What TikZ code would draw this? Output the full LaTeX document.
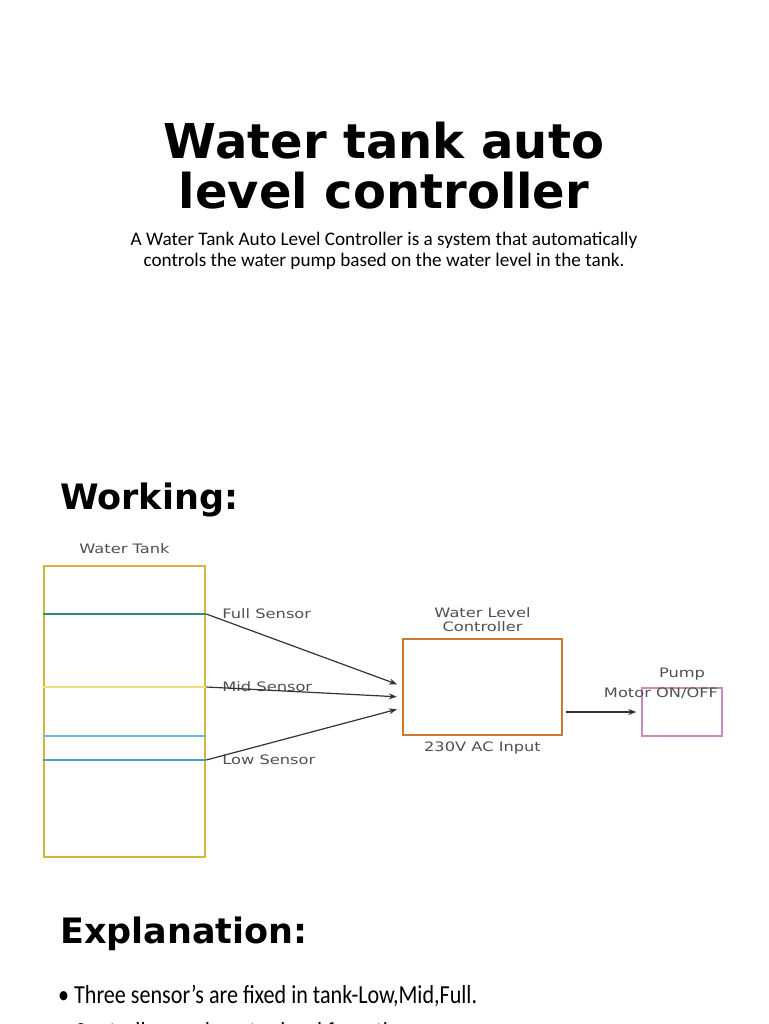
\documentclass[tikz,border=0pt]{standalone}
\usepackage{fontspec}
\setmainfont{Carlito}
\newfontfamily\headfont{DejaVu Sans}
\newfontfamily\diagfont[FakeStretch=1.25]{DejaVu Sans}
\newfontfamily\bulletfont[FakeStretch=0.85]{Carlito}
\usetikzlibrary{positioning, arrows.meta, arrows}

\definecolor{tankcol}{HTML}{D6B43E}
\definecolor{fullcol}{HTML}{2A8F78}
\definecolor{midcol}{HTML}{F0DC78}
\definecolor{lowcol}{HTML}{6DB8E2}
\definecolor{low2col}{HTML}{4A9CD0}
\definecolor{ctrlcol}{HTML}{C97A30}
\definecolor{pumpcol}{HTML}{C88CBC}
\definecolor{labelgray}{HTML}{505050}

\begin{document}
\begin{tikzpicture}[x=1pt,y=-1pt,>={Stealth[length=8pt,width=6pt]},
    heading/.style={anchor=base west,inner sep=0pt,font=\headfont\bfseries\fontsize{35}{40}\selectfont},
    lbl/.style={text=labelgray,inner sep=0pt,font=\diagfont\fontsize{13}{14}\selectfont,align=center},
    block/.style={draw,line width=2.5pt,inner sep=0pt},
    sig/.style={->,draw=black!80,line width=1.2pt,shorten >=5pt}]
    \useasboundingbox (0,0) rectangle (768,1024);

    % title and intro
    \node[align=center,font=\headfont\bfseries\fontsize{48}{50}\selectfont] (title) at (384,166) {Water tank auto\\level controller};
    \node[align=center,font=\fontsize{19.2}{21}\selectfont] (intro) at (384,251) {A Water Tank Auto Level Controller is a system that automatically\\controls the water pump based on the water level in the tank.};

    \node[heading] (working) at (60,509) {Working:};

    % tank
    \node[block,draw=tankcol,minimum width=161pt,minimum height=291pt] (tank) at (124.5,711.5) {};
    \node[lbl,above=11pt of tank] {Water Tank};
    \coordinate (full) at (tank.east |- 0,614);
    \coordinate (mid)  at (tank.east |- 0,687);
    \coordinate (low)  at (tank.east |- 0,760);
    \draw[fullcol,line width=1.5pt] (tank.west |- full) -- (full);
    \draw[midcol,line width=1.5pt] (tank.west |- mid) -- (mid);
    \draw[lowcol,line width=1.5pt] (tank.west |- 0,736) -- (tank.east |- 0,736);
    \draw[low2col,line width=1.5pt] (tank.west |- low) -- (low);
    \node[lbl,anchor=west] at ([xshift=16pt]full) {Full Sensor};
    \node[lbl,anchor=west] at ([xshift=16pt]mid) {Mid Sensor};
    \node[lbl,anchor=west] at ([xshift=16pt]low) {Low Sensor};

    % controller and pump
    \node[block,draw=ctrlcol,minimum width=159pt,minimum height=96pt] (ctrl) at (482.5,687) {};
    \node[lbl,above=6pt of ctrl] {Water Level\\Controller};
    \node[lbl,below=5pt of ctrl] {230V AC Input};
    \coordinate (in1) at ([yshift=1pt]ctrl.west);
    \coordinate (in2) at ([yshift=-10pt]ctrl.west);
    \coordinate (in3) at ([yshift=-21pt]ctrl.west);

    \node[draw=pumpcol,line width=1.5pt,minimum width=80pt,minimum height=48pt,inner sep=0pt] (pump) at (682,712) {};
    \node[lbl] (pumplbl) at (682,674) {Pump};
    \node[lbl] (motor) at (661,693) {Motor ON/OFF};

    \path (full) edge[sig] (in1)
          (mid)  edge[sig] (in2)
          (low)  edge[sig] (in3)
          (ctrl.east |- pump) edge[sig,shorten <=3pt] (pump.west);

    % explanation
    \node[heading] (expl) at (60,943) {Explanation:};
    \node[anchor=base west,inner sep=0pt,align=left,font=\bulletfont\fontsize{26}{37}\selectfont] (bullets) at (58,1040)
        {\textbullet\ Three sensor’s are fixed in tank-Low,Mid,Full.\\
         \textbullet\ Controller reads water level from these sensors.};
\end{tikzpicture}
\end{document}
